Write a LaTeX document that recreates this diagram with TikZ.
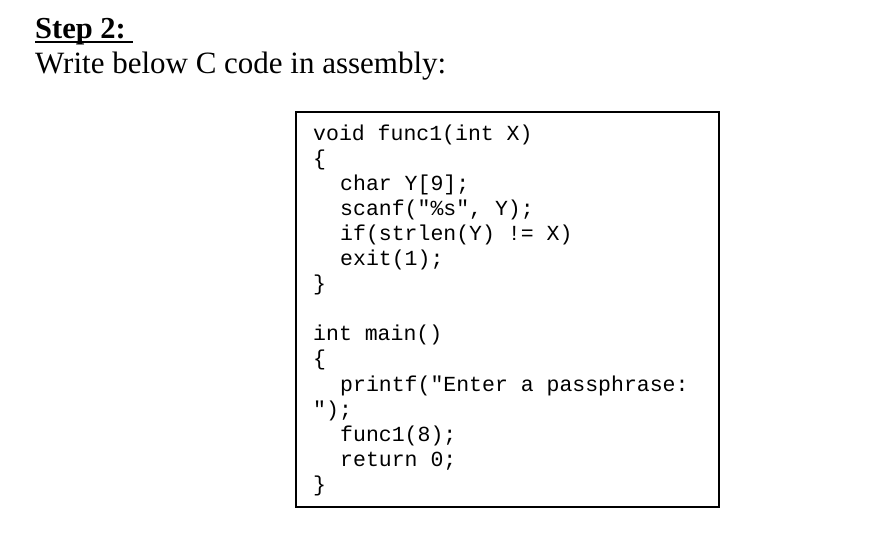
\documentclass[tikz,border=0pt]{standalone}
\usepackage{fontspec}
\setmainfont{Liberation Serif}
\setmonofont{Liberation Mono}
\begin{document}
\begin{tikzpicture}[x=1pt,y=-1pt,
  code/.style={anchor=base west,inner sep=0,font=\ttfamily\fontsize{21.5}{25}\selectfont}]
\useasboundingbox[fill=white] (0,0) rectangle (895,555);
\node[anchor=base west,inner sep=0,font=\fontsize{30.5}{32}\selectfont\bfseries] (t) at (35,38) {Step 2:\,};
\draw[line width=1.5] (35,42) -- (133,42);
\node[anchor=base west,inner sep=0,font=\fontsize{31}{32}\selectfont] (s) at (35,73) {Write below C code in assembly:};
\draw[line width=1.3] (296,112) rectangle (719,507);
\foreach \i/\x/\t in {0/313/{void func1(int X)},1/313/\{,2/340/{char Y[9];},3/340/{scanf("\%s", Y);},4/340/{if(strlen(Y) != X)},5/340/{exit(1);},6/313/\},8/313/{int main()},9/313/\{,10/340/{printf("Enter a passphrase:},11/313/{");},12/340/{func1(8);},13/340/{return 0;},14/313/\}}
  \node[code] (c\i) at (\x,{140+25.1*\i}) {\t};
\end{tikzpicture}
\end{document}
